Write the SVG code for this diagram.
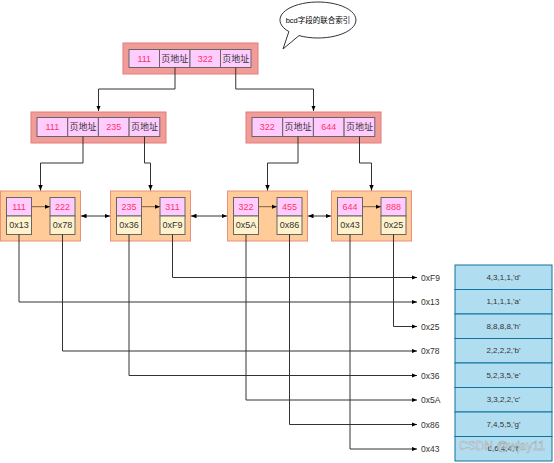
<svg xmlns="http://www.w3.org/2000/svg" width="554" height="463" viewBox="0 0 554 463">
<style>
text{font-family:"Liberation Sans","Noto Sans CJK SC",sans-serif;font-size:9px;text-anchor:middle;dominant-baseline:central}
.outer{fill:#f19c99;stroke:#e27c78;stroke-width:1}
.leaf{fill:#ffcc99;stroke:#e8917a;stroke-width:1}
.key{fill:#ffccff;stroke:#666;stroke-width:1}
.addr{fill:#fff2cc;stroke:#666;stroke-width:1}
.kt{fill:#ff3366}
.at{fill:#333}
.row{fill:#b1ddf0;stroke:#10739e;stroke-width:1}
.rt{fill:#333;font-size:8px}
.ln{fill:none;stroke:#333;stroke-width:1}
.br{fill:none;stroke:#7f5f3f;stroke-width:1}
.lbl{fill:#333;text-anchor:start;font-size:8.5px}
</style>
<defs>
<marker id="ah" viewBox="0 0 10 10" refX="10" refY="5" markerWidth="5.5" markerHeight="5.5" orient="auto" markerUnits="userSpaceOnUse"><path d="M0,1 L10,5 L0,9 Z" fill="#000"/></marker>
<marker id="as" viewBox="0 0 10 10" refX="0" refY="5" markerWidth="5.5" markerHeight="5.5" orient="auto" markerUnits="userSpaceOnUse"><path d="M10,1 L0,5 L10,9 Z" fill="#000"/></marker>
</defs>

<g id="callout">
<path d="M288.9,31.6 A38,18 0 1 1 299,35.6 L283,49 Z" fill="#fff" stroke="#333" stroke-width="1"/>
<text x="318" y="20" style="font-size:7.5px">bcd字段的联合索引</text>
</g>

<g id="root">
<rect class="outer" x="123" y="43" width="135" height="31"/>
<rect class="key" x="129" y="49.5" width="30.5" height="18"/><text class="kt" x="144.25" y="58.5">111</text>
<rect class="key" x="159.5" y="49.5" width="30.5" height="18"/><text class="at" x="174.75" y="58.5">页地址</text>
<rect class="key" x="190" y="49.5" width="30.5" height="18"/><text class="kt" x="205.25" y="58.5">322</text>
<rect class="key" x="220.5" y="49.5" width="30.5" height="18"/><text class="at" x="235.75" y="58.5">页地址</text>
</g>

<g id="inner-left">
<rect class="outer" x="31" y="112" width="135" height="31"/>
<rect class="key" x="37" y="117.5" width="30.7" height="19"/><text class="kt" x="52.35" y="127">111</text>
<rect class="key" x="67.7" y="117.5" width="30.7" height="19"/><text class="at" x="83.05" y="127">页地址</text>
<rect class="key" x="98.4" y="117.5" width="30.7" height="19"/><text class="kt" x="113.75" y="127">235</text>
<rect class="key" x="129.1" y="117.5" width="30.7" height="19"/><text class="at" x="144.45" y="127">页地址</text>
</g>

<g id="inner-right">
<rect class="outer" x="246" y="112" width="135" height="31"/>
<rect class="key" x="252" y="117.5" width="30.7" height="19"/><text class="kt" x="267.35" y="127">322</text>
<rect class="key" x="282.7" y="117.5" width="30.7" height="19"/><text class="at" x="298.05" y="127">页地址</text>
<rect class="key" x="313.4" y="117.5" width="30.7" height="19"/><text class="kt" x="328.75" y="127">644</text>
<rect class="key" x="344.1" y="117.5" width="30.7" height="19"/><text class="at" x="359.45" y="127">页地址</text>
</g>

<g id="leaf1">
<rect class="leaf" x="0.5" y="191" width="80" height="50"/>
<rect class="key" x="6.5" y="197.5" width="25" height="18.5"/><text class="kt" x="19" y="206.7">111</text>
<rect class="addr" x="6.5" y="216" width="25" height="18.5"/><text class="at" x="19" y="225.2">0x13</text>
<rect class="key" x="50" y="197.5" width="25" height="18.5"/><text class="kt" x="62.5" y="206.7">222</text>
<rect class="addr" x="50" y="216" width="25" height="18.5"/><text class="at" x="62.5" y="225.2">0x78</text>
</g>
<g id="leaf2">
<rect class="leaf" x="110.5" y="191" width="80" height="50"/>
<rect class="key" x="116.5" y="197.5" width="25" height="18.5"/><text class="kt" x="129" y="206.7">235</text>
<rect class="addr" x="116.5" y="216" width="25" height="18.5"/><text class="at" x="129" y="225.2">0x36</text>
<rect class="key" x="160" y="197.5" width="25" height="18.5"/><text class="kt" x="172.5" y="206.7">311</text>
<rect class="addr" x="160" y="216" width="25" height="18.5"/><text class="at" x="172.5" y="225.2">0xF9</text>
</g>
<g id="leaf3">
<rect class="leaf" x="227.5" y="191" width="80" height="50"/>
<rect class="key" x="233.5" y="197.5" width="25" height="18.5"/><text class="kt" x="246" y="206.7">322</text>
<rect class="addr" x="233.5" y="216" width="25" height="18.5"/><text class="at" x="246" y="225.2">0x5A</text>
<rect class="key" x="277" y="197.5" width="25" height="18.5"/><text class="kt" x="289.5" y="206.7">455</text>
<rect class="addr" x="277" y="216" width="25" height="18.5"/><text class="at" x="289.5" y="225.2">0x86</text>
</g>
<g id="leaf4">
<rect class="leaf" x="331.5" y="191" width="80" height="50"/>
<rect class="key" x="337.5" y="197.5" width="25" height="18.5"/><text class="kt" x="350" y="206.7">644</text>
<rect class="addr" x="337.5" y="216" width="25" height="18.5"/><text class="at" x="350" y="225.2">0x43</text>
<rect class="key" x="381" y="197.5" width="25" height="18.5"/><text class="kt" x="393.5" y="206.7">888</text>
<rect class="addr" x="381" y="216" width="25" height="18.5"/><text class="at" x="393.5" y="225.2">0x25</text>
</g>

<g id="table">
<rect class="row" x="455" y="265" width="97" height="24.5"/><text class="rt" x="503.5" y="277.25">4,3,1,1,'d'</text>
<rect class="row" x="455" y="289.5" width="97" height="24.5"/><text class="rt" x="503.5" y="301.75">1,1,1,1,'a'</text>
<rect class="row" x="455" y="314" width="97" height="24.5"/><text class="rt" x="503.5" y="326.25">8,8,8,8,'h'</text>
<rect class="row" x="455" y="338.5" width="97" height="24.5"/><text class="rt" x="503.5" y="350.75">2,2,2,2,'b'</text>
<rect class="row" x="455" y="363" width="97" height="24.5"/><text class="rt" x="503.5" y="375.25">5,2,3,5,'e'</text>
<rect class="row" x="455" y="387.5" width="97" height="24.5"/><text class="rt" x="503.5" y="399.75">3,3,2,2,'c'</text>
<rect class="row" x="455" y="412" width="97" height="24.5"/><text class="rt" x="503.5" y="424.25">7,4,5,5,'g'</text>
<rect class="row" x="455" y="436.5" width="97" height="24.5"/><text class="rt" x="503.5" y="448.75">6,6,4,4,'f'</text>
</g>

<g id="connectors">
<path class="ln" d="M175,67.5 V89 H98.5 V111" marker-end="url(#ah)"/>
<path class="ln" d="M235.75,67.5 V89 H313.5 V111" marker-end="url(#ah)"/>
<path class="ln" d="M83,136.5 V163 H40.5 V190.5" marker-end="url(#ah)"/>
<path class="ln" d="M144.5,136.5 V163 H150.5 V190.5" marker-end="url(#ah)"/>
<path class="ln" d="M298,136.5 V163 H267.5 V190.5" marker-end="url(#ah)"/>
<path class="ln" d="M359.5,136.5 V163 H371.5 V190.5" marker-end="url(#ah)"/>
<path class="br" d="M31.5,206.7 H50" marker-end="url(#ah)"/>
<path class="br" d="M141.5,206.7 H160" marker-end="url(#ah)"/>
<path class="br" d="M258.5,206.7 H277" marker-end="url(#ah)"/>
<path class="br" d="M362.5,206.7 H381" marker-end="url(#ah)"/>
<path class="ln" d="M81,216 H110" marker-start="url(#as)" marker-end="url(#ah)"/>
<path class="ln" d="M191,216 H227" marker-start="url(#as)" marker-end="url(#ah)"/>
<path class="ln" d="M308,216 H331" marker-start="url(#as)" marker-end="url(#ah)"/>
<path class="ln" d="M172.5,234.5 V277.5 H417" marker-end="url(#ah)"/>
<path class="ln" d="M19,234.5 V302 H417" marker-end="url(#ah)"/>
<path class="ln" d="M393.5,234.5 V326.5 H417" marker-end="url(#ah)"/>
<path class="ln" d="M62.5,234.5 V351 H417" marker-end="url(#ah)"/>
<path class="ln" d="M129,234.5 V375.5 H417" marker-end="url(#ah)"/>
<path class="ln" d="M246,234.5 V400 H417" marker-end="url(#ah)"/>
<path class="ln" d="M289.5,234.5 V424.5 H417" marker-end="url(#ah)"/>
<path class="ln" d="M350,234.5 V449 H417" marker-end="url(#ah)"/>
</g>

<g id="address-labels">
<text class="lbl" x="421" y="277.5">0xF9</text>
<text class="lbl" x="421" y="302">0x13</text>
<text class="lbl" x="421" y="326.5">0x25</text>
<text class="lbl" x="421" y="351">0x78</text>
<text class="lbl" x="421" y="375.5">0x36</text>
<text class="lbl" x="421" y="400">0x5A</text>
<text class="lbl" x="421" y="424.5">0x86</text>
<text class="lbl" x="421" y="449">0x43</text>
</g>

<text x="459" y="446" style="text-anchor:start;font-size:12px;fill:#f2f2f2;fill-opacity:0.85;stroke:#777;stroke-opacity:0.6;stroke-width:0.5">CSDN @wjay11</text>
</svg>
